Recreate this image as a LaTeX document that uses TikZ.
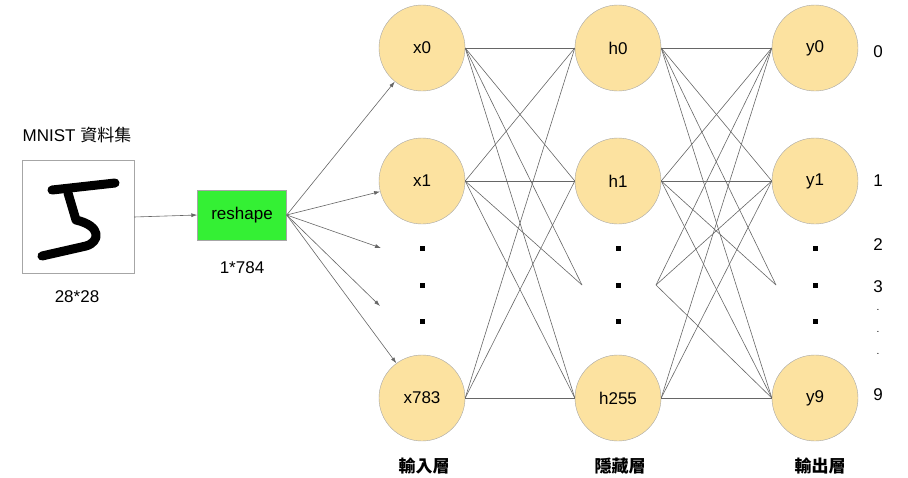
\documentclass[tikz,border=0pt]{standalone}
\usepackage{fontspec}
\setmainfont{Liberation Sans}
\newfontfamily\cjk{Noto Sans CJK TC}
\definecolor{nfill}{RGB}{252,226,160}
\definecolor{rsg}{RGB}{52,240,52}
\begin{document}
\begin{tikzpicture}[x=1pt,y=-1pt,
  neuron/.style={circle,draw=gray!70,fill=nfill,minimum size=86pt,inner sep=0pt,font=\fontsize{17}{20}\selectfont},
  conn/.style={draw=gray!80!black,line width=0.6pt},
  arr/.style={conn,-{Latex[length=6pt,width=4pt]}},
  dot/.style={fill=black,minimum size=5pt,inner sep=0pt,draw=none},
  lbl/.style={font=\fontsize{17}{20}\selectfont},
  layer/.style={font=\cjk\bfseries\fontsize{17}{20}\selectfont}]
\usetikzlibrary{arrows.meta}
\useasboundingbox (0,0) rectangle (908,477);
% image
\node[draw=gray!70,minimum width=112pt,minimum height=113pt,inner sep=0pt] (img) at (78,217) {};
\draw[line width=9pt,line cap=round,line join=round] (52,190) -- (115,183);
\draw[line width=9pt,line cap=round,line join=round] (68,193) -- (76,220) .. controls (102,226) and (100,242) .. (86,246) -- (42,256);
\node[lbl] (mnist) at (77,135) {MNIST {\cjk 資料集}};
\node[lbl] (sz) at (77,297) {28*28};
\node[draw=gray!70,fill=rsg,minimum width=89pt,minimum height=50pt] (rs) at (242,215) {\fontsize{17}{20}\selectfont reshape};
\node[lbl] (rsl) at (242,268) {1*784};
\draw[arr] (img.east) -- (rs.west);
% neurons
\node[neuron] (x0) at (422,48) {x0};
\node[neuron] (x1) at (422,181) {x1};
\node[neuron] (x783) at (422,398) {x783};
\node[neuron] (h0) at (618,48) {h0};
\node[neuron] (h1) at (618,181) {h1};
\node[neuron] (h255) at (618,398) {h255};
\node[neuron] (y0) at (815,48) {y0};
\node[neuron] (y1) at (815,181) {y1};
\node[neuron] (y9) at (815,398) {y9};
\foreach \c/\n in {422/a,618/b,815/c}{
  \node[dot] (\n1) at (\c,248) {};
  \node[dot] (\n2) at (\c,285) {};
  \node[dot] (\n3) at (\c,321) {};
}
\coordinate (pa) at (582,285);
\coordinate (pb) at (656,285);
\coordinate (pc) at (776,285);
\coordinate (ea) at (381,248);
\coordinate (eb) at (380,306);
% reshape arrows
\draw[arr] (rs.east) -- (x0);
\draw[arr] (rs.east) -- (x1);
\draw[arr] (rs.east) -- (ea);
\draw[arr] (rs.east) -- (eb);
\draw[arr] (rs.east) -- (x783);
% input to hidden
\foreach \s in {x0,x1}{
  \foreach \t in {h0,h1,h255} \draw[conn] (\s.east) -- (\t.west);
  \draw[conn] (\s.east) -- (pa);
}
\foreach \t in {h0,h1,h255} \draw[conn] (x783.east) -- (\t.west);
% hidden to output
\foreach \s in {h0,h1}{
  \foreach \t in {y0,y1,y9} \draw[conn] (\s.east) -- (\t.west);
  \draw[conn] (\s.east) -- (pc);
}
\foreach \t in {y0,y1,y9} \draw[conn] (h255.east) -- (\t.west);
\foreach \t in {y0,y1,y9} \draw[conn] (pb) -- (\t.west);
% output labels
\node[lbl] (l0) at (878,52) {0};
\node[lbl] (l1) at (878,181) {1};
\node[lbl] (l2) at (878,245) {2};
\node[lbl] (l3) at (878,287) {3};
\node[font=\fontsize{10}{12}\selectfont] (ld1) at (878,310) {.};
\node[font=\fontsize{10}{12}\selectfont] (ld2) at (878,332) {.};
\node[font=\fontsize{10}{12}\selectfont] (ld3) at (878,354) {.};
\node[lbl] (l9) at (878,395) {9};
% layer labels
\node[layer] (L1) at (424,466) {輸入層};
\node[layer] (L2) at (620,466) {隱藏層};
\node[layer] (L3) at (820,466) {輸出層};
\end{tikzpicture}
\end{document}
